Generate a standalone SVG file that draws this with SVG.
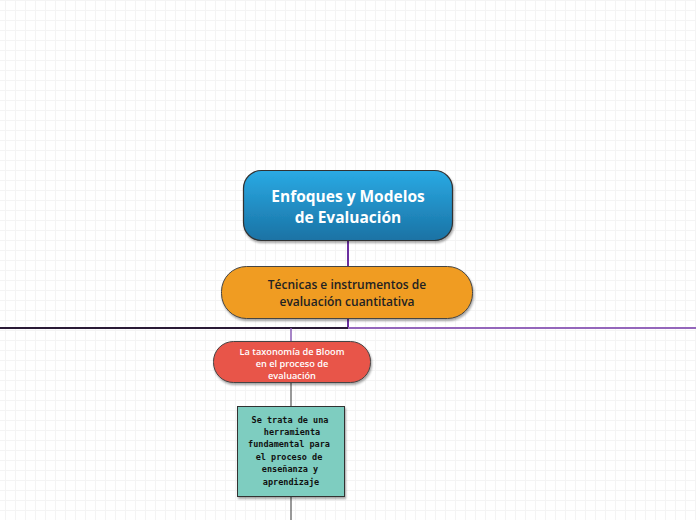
<svg xmlns="http://www.w3.org/2000/svg" width="696" height="520" viewBox="0 0 696 520">
<defs>
<pattern id="grid" width="10" height="10" patternUnits="userSpaceOnUse" x="5" y="0">
<path d="M0 0.5H10M0.5 0V10" fill="none" stroke="#f4f4f4" stroke-width="1"/>
</pattern>
<linearGradient id="blue" x1="0" y1="0" x2="0" y2="1">
<stop offset="0" stop-color="#2aaae4"/>
<stop offset="1" stop-color="#1a72a4"/>
</linearGradient>
<filter id="sh" x="-10%" y="-10%" width="130%" height="140%">
<feDropShadow dx="1" dy="2" stdDeviation="1.2" flood-color="#000" flood-opacity="0.35"/>
</filter>
</defs>
<style>
.t{font-family:"Open Sans","Noto Sans","Liberation Sans",sans-serif;text-anchor:middle}
.mono{font-family:"DejaVu Sans Mono","Liberation Mono",monospace;text-anchor:middle;font-weight:bold;font-size:8.5px;fill:#111}
</style>
<rect width="696" height="520" fill="#ffffff"/>
<rect width="696" height="520" fill="url(#grid)"/>
<g id="connectors" fill="none">
<line x1="348" y1="240" x2="348" y2="266" stroke="#6b2fa0" stroke-width="2"/>
<line x1="348" y1="318" x2="348" y2="329" stroke="#6b2fa0" stroke-width="2"/>
<line x1="0" y1="328" x2="348" y2="328" stroke="#2a1a36" stroke-width="2"/>
<line x1="348" y1="328" x2="696" y2="328" stroke="#9466bb" stroke-width="2"/>
<line x1="291" y1="328" x2="291" y2="341" stroke="#8a5cb5" stroke-width="1.5"/>
<line x1="291" y1="382" x2="291" y2="406" stroke="#555" stroke-width="1.2"/>
<line x1="291" y1="497" x2="291" y2="520" stroke="#555" stroke-width="1.2"/>
</g>
<g id="main">
<rect x="243.5" y="170.5" width="209" height="70" rx="18" fill="url(#blue)" stroke="#333" stroke-width="1.2" filter="url(#sh)"/>
<text class="t" x="348" y="202" font-size="15.5" font-weight="bold" fill="#fff">Enfoques y Modelos</text>
<text class="t" x="348" y="223" font-size="15.5" font-weight="bold" fill="#fff">de Evaluación</text>
</g>
<g id="tecnicas">
<rect x="221.5" y="266.5" width="251" height="52" rx="25" fill="#f09c20" stroke="#444" stroke-width="1" filter="url(#sh)"/>
<text class="t" x="347" y="289" font-size="12" font-weight="600" fill="#222">Técnicas e instrumentos de</text>
<text class="t" x="347" y="306" font-size="12" font-weight="600" fill="#222">evaluación cuantitativa</text>
</g>
<g id="bloom">
<rect x="213.5" y="341.5" width="157" height="41" rx="20" fill="#e8554a" stroke="#444" stroke-width="1" filter="url(#sh)"/>
<text class="t" x="292" y="355" font-size="9.2" font-weight="600" fill="#fff">La taxonomía de Bloom</text>
<text class="t" x="292" y="367" font-size="9.2" font-weight="600" fill="#fff">en el proceso de</text>
<text class="t" x="292" y="379" font-size="9.2" font-weight="600" fill="#fff">evaluación</text>
</g>
<g id="herramienta">
<rect x="237.5" y="406.5" width="107" height="90" fill="#7ecdc0" stroke="#333" stroke-width="1" filter="url(#sh)"/>
<text class="mono" x="290" y="423">Se trata de una</text>
<text class="mono" x="292" y="435">herramienta</text>
<text class="mono" x="289" y="447">fundamental para</text>
<text class="mono" x="289" y="460">el proceso de</text>
<text class="mono" x="290" y="472">enseñanza y</text>
<text class="mono" x="291" y="485">aprendizaje</text>
</g>
</svg>
